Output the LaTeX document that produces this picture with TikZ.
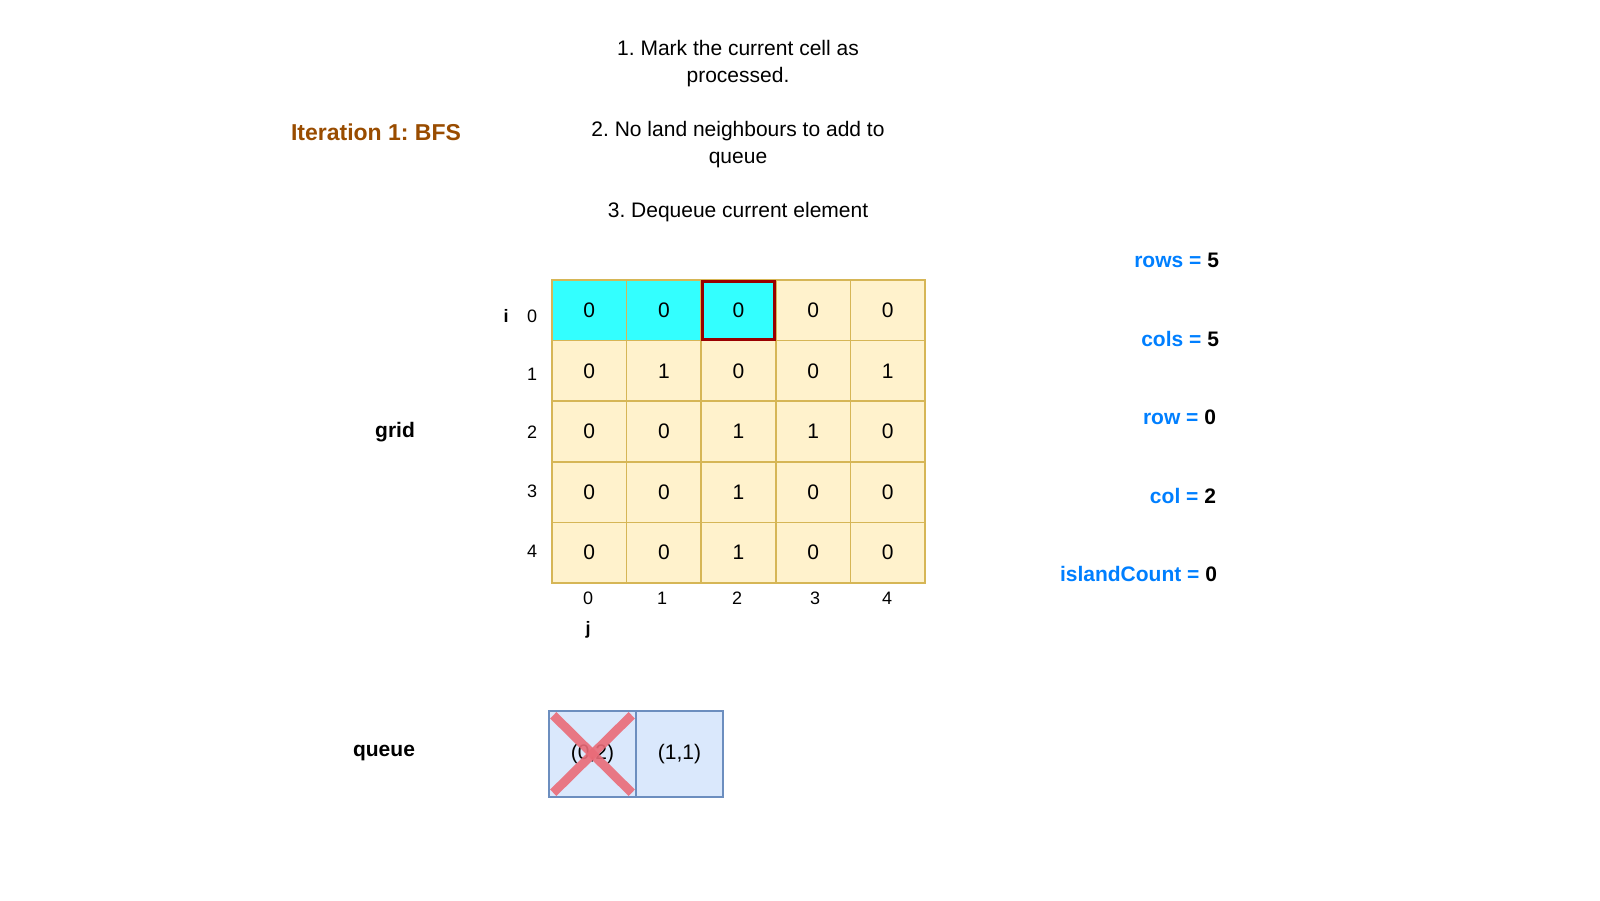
\documentclass[tikz,border=0pt]{standalone}
\usepackage{fontspec}
\setmainfont{Liberation Sans}
\frenchspacing
\begin{document}
\begin{tikzpicture}[x=0.5pt,y=-0.5pt,
  cellbox/.style={draw=cellline,fill=cellfill,line width=0.75pt,minimum width=37.3pt,minimum height=30.3pt,inner sep=0pt,font=\fontsize{10.5}{12}\selectfont},
  qbox/.style={draw=qline,fill=qfill,line width=0.75pt,minimum width=43.5pt,minimum height=43pt,inner sep=0pt,font=\fontsize{10.5}{12}\selectfont},
  idx/.style={font=\fontsize{9}{10.5}\selectfont},
  var/.style={anchor=east,font=\bfseries\fontsize{10.5}{12}\selectfont},
  lbl/.style={font=\bfseries\fontsize{10.5}{12}\selectfont},
  instr/.style={align=center,font=\fontsize{10.5}{13.5}\selectfont}]
\definecolor{cellline}{HTML}{D6B656}
\definecolor{cellfill}{HTML}{FFF2CC}
\definecolor{cyanfill}{HTML}{33FFFF}
\definecolor{qline}{HTML}{6C8EBF}
\definecolor{qfill}{HTML}{DAE8FC}
\definecolor{vblue}{HTML}{007FFF}
\definecolor{titlec}{HTML}{994C00}
\definecolor{crossc}{HTML}{EA6B78}
\useasboundingbox (0,0) rectangle (1600,900);
\node[instr] (t1) at (738,64) {1. Mark the current cell as\\processed.};
\node[instr] (t2) at (738,145) {2. No land neighbours to add to\\queue};
\node[instr] (t3) at (738,212) {3. Dequeue current element};
\node[lbl,text=titlec,font=\bfseries\fontsize{11.5}{13}\selectfont] (title) at (376,132) {Iteration 1: BFS};
\foreach \r/\vals in {0/{0,0,0,0,0},1/{0,1,0,0,1},2/{0,0,1,1,0},3/{0,0,1,0,0},4/{0,0,1,0,0}}{
  \foreach \v [count=\c from 0] in \vals {
    \node[cellbox] (c-\r-\c) at ({589.3+74.6*\c},{310.3+60.6*\r}) {\v};
  }
}
\foreach \c in {0,1,2}{\node[cellbox,fill=cyanfill] at (c-0-\c) {0};}
\node[draw=red!60!black,line width=1.5pt,minimum width=36pt,minimum height=29pt] (hl) at (c-0-2) {};
\foreach \r/\y in {0/316,1/374,2/432,3/491,4/551}{\node[idx] (ri\r) at (532,\y) {\r};}
\node[lbl,font=\bfseries\fontsize{9}{10.5}\selectfont] (ilab) at (506,316) {i};
\foreach \c/\x in {0/588,1/662,2/737,3/815,4/887}{\node[idx] (cj\c) at (\x,598) {\c};}
\node[lbl,font=\bfseries\fontsize{9}{10.5}\selectfont] (jlab) at (588,630) {j};
\node[lbl] (grid) at (395,432) {grid};
\node[lbl] (queue) at (384,753) {queue};
\node[qbox] (q0) at (592.5,754) {(0,2)};
\node[qbox] (q1) at (679.5,754) {(1,1)};
\draw[crossc,opacity=0.9,line width=4.5pt] ([shift={(5,5)}]q0.north west) -- ([shift={(-5,-5)}]q0.south east);
\draw[crossc,opacity=0.9,line width=4.5pt] ([shift={(-5,5)}]q0.north east) -- ([shift={(5,-5)}]q0.south west);
\node[var] (v1) at (1226,260) {\textcolor{vblue}{rows =} 5};
\node[var] (v2) at (1226,339) {\textcolor{vblue}{cols =} 5};
\node[var] (v3) at (1223,417) {\textcolor{vblue}{row =} 0};
\node[var] (v4) at (1223,496) {\textcolor{vblue}{col =} 2};
\node[var] (v5) at (1224,574) {\textcolor{vblue}{islandCount =} 0};
\end{tikzpicture}
\end{document}
